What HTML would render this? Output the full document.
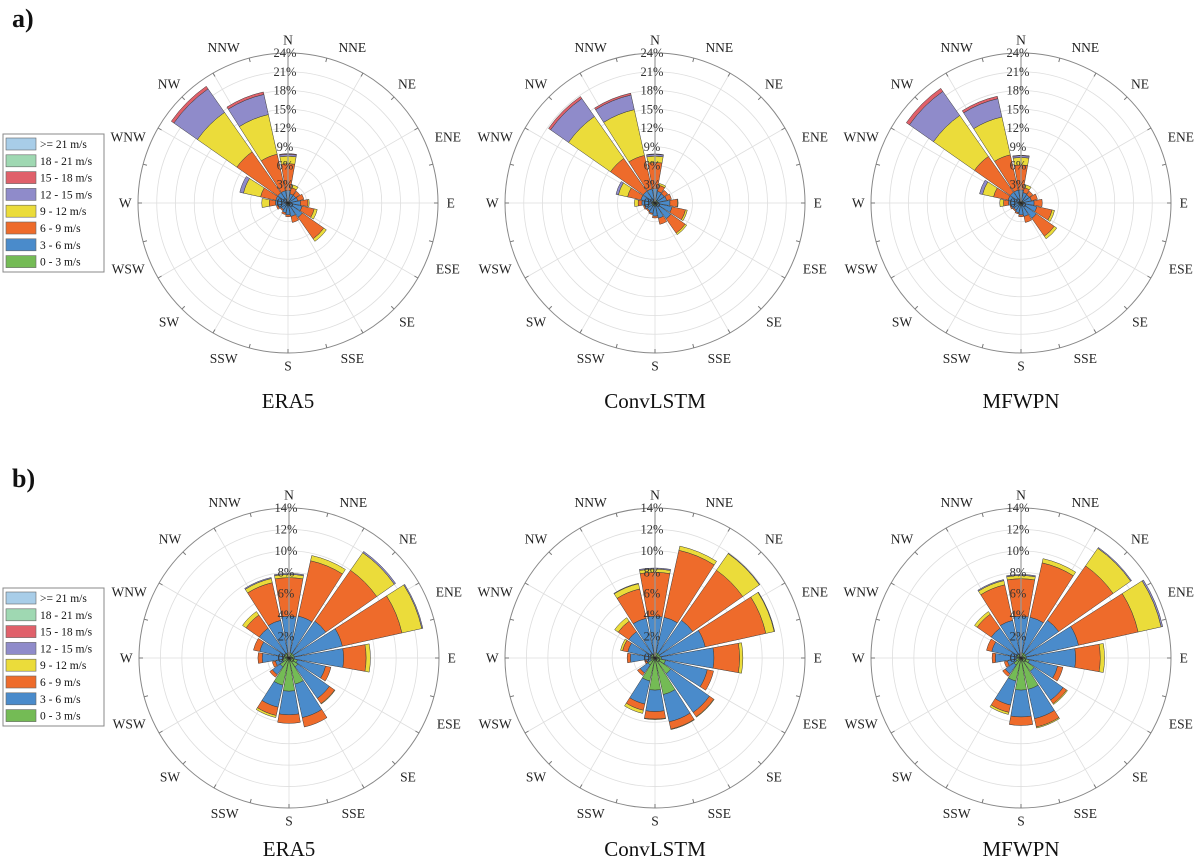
<!DOCTYPE html>
<html><head><meta charset="utf-8"><style>
html,body{margin:0;padding:0;background:#fff;width:1200px;height:860px;overflow:hidden}
svg{display:block;font-family:"Liberation Serif",serif}
</style></head><body>
<svg id="fig" width="1200" height="860" viewBox="0 0 1200 860"></svg>
<script>
const dirs=["N","NNE","NE","ENE","E","ESE","SE","SSE","S","SSW","SW","WSW","W","WNW","NW","NNW"];
const binLabels=["0 - 3 m/s","3 - 6 m/s","6 - 9 m/s","9 - 12 m/s","12 - 15 m/s","15 - 18 m/s","18 - 21 m/s",">= 21 m/s"];
const binColors=["#74bb55","#4a8bcb","#ee6b2b","#ebdc3a","#8f8bca","#e0606a","#9fd8b2","#a8cde8"];
const topTicks=[0,3,6,9,12,15,18,21,24];
const botTicks=[0,2,4,6,8,10,12,14];
// Top row a)
const era5A_0_3=[0.3,0.3,0.3,0.3,0.3,0.3,0.3,0.4,0.4,0.4,0.3,0.3,0.3,0.3,0.3,0.3];
const era5A_3_6=[1.7,1.2,1.2,1.3,1.7,2.0,2.5,1.8,1.5,1.2,1.0,1.3,1.7,1.7,1.7,1.7];
const era5A_6_9=[4.3,1.0,0.8,1.0,1.2,2.0,4.2,1.0,0.3,0.3,0.2,0.3,1.0,2.5,8.0,6.0];
const era5A_9_12=[1.2,0.5,0,0,0.2,0.5,0.5,0,0,0,0,0,1.2,2.8,7.7,6.5];
const era5A_12_15=[0.3,0,0,0,0,0,0,0,0,0,0,0,0,0.6,4.6,3.3];
const era5A_15_18=[0.1,0,0,0,0,0,0,0,0,0,0,0,0,0,0.5,0.4];
const convA_0_3=[0.5,0.5,0.5,0.5,0.5,0.5,0.5,0.5,0.5,0.5,0.5,0.5,0.5,0.5,0.5,0.5];
const convA_3_6=[1.8,1.4,1.3,1.4,1.9,2.3,2.6,2.0,1.6,1.2,1.0,1.2,1.6,1.8,1.8,1.8];
const convA_6_9=[4.2,1.0,0.7,0.8,1.2,2.2,2.8,1.0,0.3,0.2,0.2,0.2,0.6,2.2,6.4,5.5];
const convA_9_12=[1.0,0.3,0,0,0.1,0.3,0.3,0,0,0,0,0,0.6,1.5,8.2,7.5];
const convA_12_15=[0.3,0,0,0,0,0,0,0,0,0,0,0,0,0.4,3.5,2.4];
const convA_15_18=[0.05,0,0,0,0,0,0,0,0,0,0,0,0,0,0.4,0.3];
const mfwA_0_3=[0.4,0.4,0.4,0.4,0.4,0.4,0.4,0.4,0.4,0.4,0.4,0.4,0.4,0.4,0.4,0.4];
const mfwA_3_6=[1.7,1.3,1.2,1.3,1.7,2.2,2.6,1.8,1.5,1.2,1.0,1.2,1.6,1.7,1.7,1.7];
const mfwA_6_9=[4.0,0.8,0.7,1.0,1.3,2.5,3.5,1.0,0.3,0.2,0.2,0.2,0.8,2.4,7.0,5.8];
const mfwA_9_12=[1.2,0.5,0,0,0,0.4,0.5,0,0,0,0,0,0.6,1.8,8.0,6.2];
const mfwA_12_15=[0.3,0,0,0,0,0,0,0,0,0,0,0,0,0.5,4.7,3.0];
const mfwA_15_18=[0.05,0,0,0,0,0,0,0,0,0,0,0,0,0,0.6,0.4];
// Bottom row b)
const era5B_0_3=[0.5,0.5,0.5,0.5,0.5,0.8,1.0,2.5,3.1,2.6,1.0,0.6,0.5,0.5,0.5,0.5];
const era5B_3_6=[3.4,3.5,3.7,4.6,4.6,2.7,3.6,3.2,2.2,2.1,0.9,0.7,2.0,2.3,2.9,3.1];
const era5B_6_9=[3.6,5.3,5.8,5.7,2.1,0.5,0.6,0.9,0.8,0.8,0.3,0.3,0.4,0.6,1.5,3.6];
const era5B_9_12=[0.3,0.5,2.0,1.9,0.4,0,0.05,0,0,0.2,0,0,0,0,0.4,0.4];
const era5B_12_15=[0.1,0,0.15,0.1,0,0,0,0,0,0,0,0,0,0,0,0.1];
const convB_0_3=[0.5,0.5,0.5,0.5,0.6,1.0,1.8,3.5,3.0,2.2,0.8,0.4,0.4,0.4,0.4,0.4];
const convB_3_6=[3.4,3.4,3.8,4.3,4.9,4.0,4.4,2.6,2.0,2.2,0.9,0.4,1.9,2.2,2.6,3.4];
const convB_6_9=[4.1,6.4,5.7,5.8,2.4,0.6,0.5,0.7,0.7,0.6,0.3,0.2,0.3,0.5,1.2,2.8];
const convB_9_12=[0.3,0.4,1.9,0.8,0.3,0,0.05,0.05,0.05,0.3,0,0,0,0.2,0.4,0.5];
const convB_12_15=[0.1,0,0.05,0.05,0,0,0,0,0,0,0,0,0,0,0,0.05];
const mfwB_0_3=[0.5,0.5,0.5,0.5,0.5,0.8,1.5,3.0,3.0,2.2,0.8,0.5,0.4,0.4,0.4,0.4];
const mfwB_3_6=[3.4,3.4,3.8,5.0,4.6,2.7,3.3,2.8,2.5,2.3,1.0,0.8,2.0,2.4,3.0,3.2];
const mfwB_6_9=[3.5,5.2,6.2,5.7,2.3,0.5,0.4,0.8,0.8,0.7,0.3,0.3,0.3,0.5,1.6,3.4];
const mfwB_9_12=[0.3,0.4,2.0,2.2,0.4,0,0.1,0.1,0,0.2,0,0,0,0,0.3,0.4];
const mfwB_12_15=[0.1,0,0.1,0.15,0,0,0,0,0,0,0,0,0,0,0,0.1];

const NS="http://www.w3.org/2000/svg";
const svg=document.getElementById("fig");
function mk(tag,attrs,parent){const e=document.createElementNS(NS,tag);for(const k in attrs)e.setAttribute(k,attrs[k]);(parent||svg).appendChild(e);return e;}
const R=150;
const panels=[
 {cx:288,cy:203,max:24,ticks:topTicks,title:"ERA5",ty:410,key:"a-era5",bins:[era5A_0_3,era5A_3_6,era5A_6_9,era5A_9_12,era5A_12_15,era5A_15_18]},
 {cx:655,cy:203,max:24,ticks:topTicks,title:"ConvLSTM",ty:410,key:"a-convlstm",bins:[convA_0_3,convA_3_6,convA_6_9,convA_9_12,convA_12_15,convA_15_18]},
 {cx:1021,cy:203,max:24,ticks:topTicks,title:"MFWPN",ty:410,key:"a-mfwpn",bins:[mfwA_0_3,mfwA_3_6,mfwA_6_9,mfwA_9_12,mfwA_12_15,mfwA_15_18]},
 {cx:289,cy:658,max:14,ticks:botTicks,title:"ERA5",ty:858,key:"b-era5",bins:[era5B_0_3,era5B_3_6,era5B_6_9,era5B_9_12,era5B_12_15]},
 {cx:655,cy:658,max:14,ticks:botTicks,title:"ConvLSTM",ty:858,key:"b-convlstm",bins:[convB_0_3,convB_3_6,convB_6_9,convB_9_12,convB_12_15]},
 {cx:1021,cy:658,max:14,ticks:botTicks,title:"MFWPN",ty:858,key:"b-mfwpn",bins:[mfwB_0_3,mfwB_3_6,mfwB_6_9,mfwB_9_12,mfwB_12_15]}
];
function pt(cx,cy,r,deg){const t=deg*Math.PI/180;return [cx+r*Math.sin(t),cy-r*Math.cos(t)];}
function sector(cx,cy,r0,r1,a0,a1){
 const p1=pt(cx,cy,r1,a0),p2=pt(cx,cy,r1,a1),p3=pt(cx,cy,r0,a1),p4=pt(cx,cy,r0,a0);
 return `M${p4[0]},${p4[1]}L${p1[0]},${p1[1]}A${r1},${r1} 0 0 1 ${p2[0]},${p2[1]}L${p3[0]},${p3[1]}A${r0},${r0} 0 0 0 ${p4[0]},${p4[1]}Z`;
}
panels.forEach(p=>{
 const g=mk("g",{});
 
 
 const sc=v=>v/p.max*R;
 p.ticks.forEach(t=>{if(t>0&&t<p.max){const c=mk("circle",{cx:p.cx,cy:p.cy,r:sc(t),fill:"none",stroke:"#dedede","stroke-width":0.8},g);
  }});
 for(let a=0;a<360;a+=30){if(a===0)continue;const e=pt(p.cx,p.cy,R,a);
  const l=mk("line",{x1:p.cx,y1:p.cy,x2:e[0],y2:e[1],stroke:"#dedede","stroke-width":0.8},g);
  }
 const oc=mk("circle",{cx:p.cx,cy:p.cy,r:R,fill:"none",stroke:"#888","stroke-width":1},g);
 
 for(let a=0;a<360;a+=15){const i=pt(p.cx,p.cy,R-4,a),o=pt(p.cx,p.cy,R,a);
  const tk=mk("line",{x1:i[0],y1:i[1],x2:o[0],y2:o[1],stroke:"#777","stroke-width":1},g);
  }
 dirs.forEach((d,i)=>{
  let cum=0;const a=i*22.5;
  p.bins.forEach((arr,bi)=>{
   const v=arr[i];if(v<=0)return;
   const r0=sc(cum),r1=sc(cum+v);cum+=v;
   const s=mk("path",{d:sector(p.cx,p.cy,r0,r1,a-10,a+10),fill:binColors[bi],stroke:"#3a3a3a","stroke-width":0.5},g);
   
   
  });
 });
 const na=mk("line",{x1:p.cx,y1:p.cy,x2:p.cx,y2:p.cy-R,stroke:"#999","stroke-width":1.2},g);
 
 mk("circle",{cx:p.cx,cy:p.cy,r:1.5,fill:"#222"},g);
 p.ticks.forEach(t=>{const tx=mk("text",{x:p.cx-3,y:p.cy-sc(t)+4,"text-anchor":"middle","font-size":12.5,fill:"#333"},g);
  tx.textContent=t+"%";});
 dirs.forEach((d,i)=>{const t=i*22.5*Math.PI/180;
  const w=d.length*9.5;
  const rc=158+0.5*w*Math.abs(Math.sin(t))+5*Math.abs(Math.cos(t));
  const x=p.cx+rc*Math.sin(t),y=p.cy-rc*Math.cos(t)+4.5;
  const tx=mk("text",{x:x,y:y,"text-anchor":"middle","font-size":13.5,fill:"#222"},g);
  tx.textContent=d;});
 const ti=mk("text",{x:p.cx,y:p.ty-2,"text-anchor":"middle","font-size":21,fill:"#111"},g);
 ti.textContent=p.title;
});
[134,588].forEach((ly,li)=>{
 const g=mk("g",{});
 
 
 mk("rect",{x:3,y:ly,width:101,height:138,fill:"#fff",stroke:"#888","stroke-width":1},g);
 for(let k=0;k<8;k++){
  const bi=7-k;const yy=ly+4+k*16.8;
  const sw=mk("rect",{x:6,y:yy,width:30,height:12,fill:binColors[bi],stroke:"#666","stroke-width":0.6},g);
  
  const tx=mk("text",{x:40,y:yy+10,"font-size":11.5,fill:"#111"},g);
  tx.textContent=binLabels[bi];
 }
});
const la=mk("text",{x:12,y:27,"font-size":26,"font-weight":"bold",fill:"#111"});
la.textContent="a)";
const lb=mk("text",{x:12,y:487,"font-size":26,"font-weight":"bold",fill:"#111"});
lb.textContent="b)";
</script>
</body></html>
